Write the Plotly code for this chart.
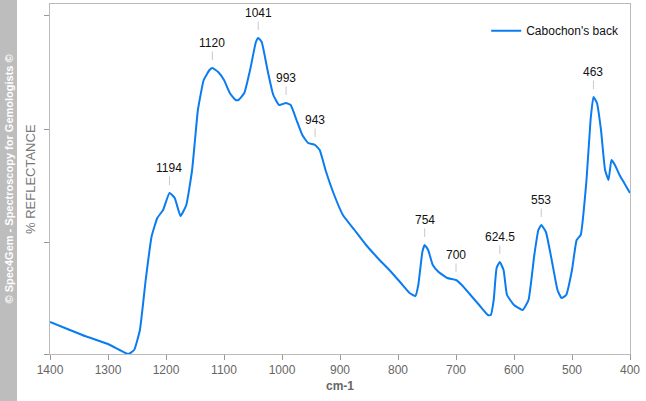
import plotly.graph_objects as go

wavenumber = [1400,1370,1340,1300,1280,1265,1255,1245,1235,1225,1215,1205,1194,1185,1175,1165,1155,1150,1145,1135,1125,1120,1110,1100,1090,1080,1075,1065,1055,1045,1041,1035,1025,1015,1005,993,985,975,965,955,943,935,925,910,895,875,855,835,815,795,780,770,765,758,754,748,740,730,715,700,690,675,660,645,640,635,630,624.5,618,612,600,585,575,565,558,553,545,535,525,518,510,500,492,485,475,468,463,457,450,443,437,432,426,418,410,400]
ypix = [322,329,336,344,350,354,350,330,280,237,218,210,193,198,216,205,170,140,110,80,70,68,72,80,93,100,100,93,70,42,38,42,70,95,105,103,105,120,135,143,145,150,170,195,215,230,245,258,270,283,293,296,285,252,245,250,265,272,278,280,285,295,305,315,315,300,268,262,270,295,305,310,300,255,230,225,232,260,290,298,295,270,240,235,180,120,97,103,130,170,180,160,165,175,183,193]
reflectance = [354 - v for v in ypix]
peak_labels = ["1194","1120","1041","993","943","754","700","624.5","553","463"]
peak_pos = [1194,1120,1041,993,943,754,700,624.5,553,463]

fig = go.Figure()
fig.add_trace(go.Scatter(x=wavenumber, y=reflectance, mode="lines", name="Cabochon's back",
                         line=dict(color="#0a7cf0", width=2, shape="spline", smoothing=0.4)))
lookup = dict(zip(wavenumber, reflectance))
for lab, p in zip(peak_labels, peak_pos):
    fig.add_annotation(x=p, y=lookup[p], text=lab, showarrow=True, arrowhead=0, ax=0, ay=-25,
                       standoff=8, arrowcolor="#c8c8c8", arrowwidth=1,
                       font=dict(family="Arial", size=12, color="#111"))
fig.add_shape(type="rect", xref="paper", yref="paper", x0=-50/580, x1=-33/580, y0=-47/350, y1=4/350+1,
              fillcolor="#bdbdbd", line_width=0, layer="below")
fig.add_annotation(xref="paper", yref="paper", x=-41.5/580, y=0.5, xanchor="center", yanchor="middle",
                   text="<b>© Spec4Gem - Spectroscopy for Gemologists ©</b>",
                   textangle=-90, showarrow=False, font=dict(family="Arial", size=11, color="white"))
fig.add_annotation(xref="paper", yref="paper", x=-20/580, y=0.5, xanchor="center", yanchor="middle",
                   text="% REFLECTANCE",
                   textangle=-90, showarrow=False, font=dict(family="Arial", size=13, color="#777"))
fig.update_layout(
    width=646, height=401, margin=dict(l=50, r=16, t=4, b=47),
    plot_bgcolor="white", paper_bgcolor="white",
    showlegend=True,
    legend=dict(x=0.99, y=0.965, xanchor="right", yanchor="top", font=dict(family="Arial", size=12, color="#111"),
                bgcolor="rgba(0,0,0,0)"),
    xaxis=dict(range=[1400, 400], tickvals=[1400,1300,1200,1100,1000,900,800,700,600,500,400],
               ticks="outside", ticklen=5, tickcolor="#999", showgrid=False, zeroline=False,
               showline=True, linecolor="#bbb", mirror=True,
               tickfont=dict(family="Arial", size=12, color="#666"),
               title=dict(text="<b>cm-1</b>", font=dict(family="Arial", size=12, color="#666"), standoff=5)),
    yaxis=dict(range=[0, 350], tickvals=[0,112,225,339], showticklabels=False, ticks="outside", ticklen=5,
               tickcolor="#999", showgrid=False, zeroline=False, showline=True, linecolor="#bbb", mirror=True),
)
fig.write_html("out.html", config={"displayModeBar": False},
               post_script="document.body.style.margin='0';document.body.style.overflow='hidden';")
